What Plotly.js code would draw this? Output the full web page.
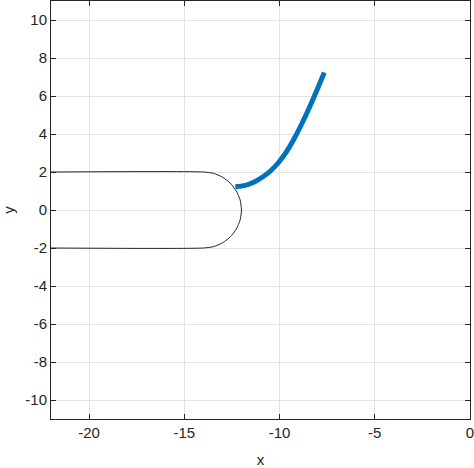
<!DOCTYPE html>
<html>
<head>
<meta charset="utf-8">
<script src="https://cdn.plot.ly/plotly-3.0.1.min.js"></script>
<style>html,body{margin:0;padding:0;background:#fff;}#plot{width:474px;height:468px;}</style>
</head>
<body>
<div id="plot"></div>
<script>
// Boundary (black): straight top, semicircular cap, straight bottom
const boundaryX = [-22, -14, -13.482, -13, -12.586, -12.268, -12.068, -12, -12.068, -12.268, -12.586, -13, -13.482, -14, -22];
const boundaryY = [2, 2, 1.932, 1.732, 1.414, 1, 0.518, 0, -0.518, -1, -1.414, -1.732, -1.932, -2, -2];
// Trajectory (blue)
const pathX = [-12.32, -11.8, -11.3, -10.85, -10.45, -10.05, -9.65, -9.25, -8.85, -8.45, -8.05, -7.65];
const pathY = [1.22, 1.30, 1.49, 1.76, 2.08, 2.50, 3.04, 3.72, 4.50, 5.36, 6.28, 7.24];
const xTicks = [-20, -15, -10, -5, 0];
const yTicks = [-10, -8, -6, -4, -2, 0, 2, 4, 6, 8, 10];

const font = {family: 'Arial, "Liberation Sans", sans-serif', size: 15, color: '#262626'};
const axisCommon = {
  showgrid: true, gridcolor: '#e3e3e3', gridwidth: 1,
  zeroline: false, showline: true, linecolor: '#262626', linewidth: 1,
  mirror: 'ticks', ticks: 'inside', ticklen: 5, tickcolor: '#262626',
  tickfont: font, automargin: false, ticklabeloverflow: 'allow'
};
Plotly.newPlot('plot', [
  {x: boundaryX, y: boundaryY, mode: 'lines', line: {color: '#262626', width: 1, shape: 'spline', smoothing: 0.6}, hoverinfo: 'none'},
  {x: pathX, y: pathY, mode: 'lines', line: {color: '#0072BD', width: 5, shape: 'spline', smoothing: 1}, hoverinfo: 'none'}
], {
  width: 474, height: 468,
  margin: {l: 51, r: 4, t: 1, b: 49},
  showlegend: false,
  paper_bgcolor: '#fff', plot_bgcolor: '#fff',
  font: font,
  xaxis: Object.assign({}, axisCommon, {range: [-22, 0], tickvals: xTicks, ticktext: xTicks.map(String), title: {text: 'x', font: font, standoff: 14}}),
  yaxis: Object.assign({}, axisCommon, {range: [-11, 11], tickvals: yTicks, ticktext: yTicks.map(String), title: {text: 'y', font: font, standoff: 13}})
}, {staticPlot: true});
</script>
</body>
</html>
